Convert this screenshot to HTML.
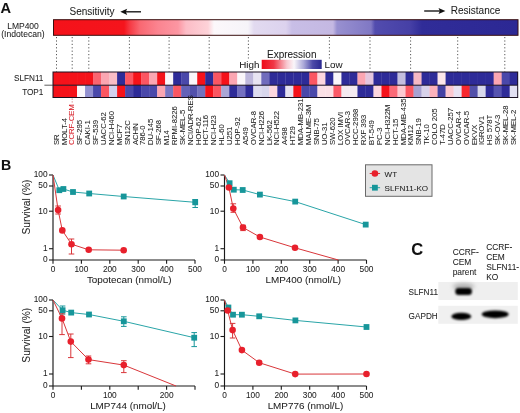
<!DOCTYPE html>
<html><head><meta charset="utf-8"><title>figure</title>
<style>html,body{margin:0;padding:0;background:#fff;} svg{display:block;font-family:"Liberation Sans", sans-serif;will-change:transform;filter:blur(0.35px);}</style>
</head><body>
<svg width="520" height="413" viewBox="0 0 520 413">
<rect width="520" height="413" fill="#fff"/>
<text stroke="#111" stroke-width="0.05" x="0.6" y="12.7" font-size="14.6" font-weight="bold" fill="#111">A</text>
<text stroke="#1c1c1c" stroke-width="0.05" x="69.5" y="14.6" font-size="10" fill="#1c1c1c">Sensitivity</text>
<line x1="125" y1="11.8" x2="141" y2="11.8" stroke="#1a1a1a" stroke-width="1.4"/>
<path d="M120.3 11.8 L127.2 8.7 L125.8 11.8 L127.2 14.9 Z" fill="#111"/>
<line x1="424.2" y1="11" x2="440" y2="11" stroke="#1a1a1a" stroke-width="1.4"/>
<path d="M445.4 11 L438.5 7.9 L439.9 11 L438.5 14.1 Z" fill="#111"/>
<text stroke="#1c1c1c" stroke-width="0.05" x="450.8" y="14.4" font-size="10" fill="#1c1c1c">Resistance</text>
<text stroke="#1c1c1c" stroke-width="0.05" x="23" y="28.5" font-size="8.5" text-anchor="middle" fill="#1c1c1c">LMP400</text>
<text stroke="#1c1c1c" stroke-width="0.05" x="22.9" y="36.9" font-size="8.6" text-anchor="middle" fill="#1c1c1c">(Indotecan)</text>
<defs><linearGradient id="lmp" x1="0" x2="1" y1="0" y2="0"><stop offset="-0.001076426264800861" stop-color="#f5121a"/><stop offset="0.15177610333692143" stop-color="#f5141c"/><stop offset="0.16469321851453175" stop-color="#f63a44"/><stop offset="0.18622174381054898" stop-color="#f96872"/><stop offset="0.22497308934337998" stop-color="#fb8490"/><stop offset="0.2680301399354144" stop-color="#fc96a2"/><stop offset="0.2852529601722282" stop-color="#fcbcc6"/><stop offset="0.3326157158234661" stop-color="#fdd2d8"/><stop offset="0.3455328310010764" stop-color="#fcf8fb"/><stop offset="0.418729817007535" stop-color="#f6f4f9"/><stop offset="0.4316469321851453" stop-color="#e2daf0"/><stop offset="0.5005382131324004" stop-color="#dcd2ee"/><stop offset="0.5134553283100107" stop-color="#c8bee6"/><stop offset="0.6017222820236814" stop-color="#c4b8e2"/><stop offset="0.6103336921420882" stop-color="#9890d0"/><stop offset="0.6835306781485468" stop-color="#8078c4"/><stop offset="0.6921420882669537" stop-color="#524cae"/><stop offset="0.767491926803014" stop-color="#4640a6"/><stop offset="0.7933261571582346" stop-color="#302c98"/><stop offset="1.0" stop-color="#2c2894"/></linearGradient>
<linearGradient id="expr" x1="0" x2="1" y1="0" y2="0"><stop offset="0" stop-color="#ee0a18"/><stop offset="0.2" stop-color="#f03646"/><stop offset="0.42" stop-color="#f8c8d0"/><stop offset="0.54" stop-color="#faf6fa"/><stop offset="0.7" stop-color="#aaa8d8"/><stop offset="0.85" stop-color="#4c4aa8"/><stop offset="1" stop-color="#2a2890"/></linearGradient>
<filter id="blur1" x="-50%" y="-50%" width="200%" height="200%"><feGaussianBlur stdDeviation="1.0"/></filter>
<filter id="blur2" x="-50%" y="-50%" width="200%" height="200%"><feGaussianBlur stdDeviation="2"/></filter>
</defs>
<rect x="53.5" y="19.7" width="464.5" height="15.6" fill="url(#lmp)" stroke="#3a1010" stroke-width="1"/>
<line x1="56.5" y1="37" x2="56.5" y2="71.5" stroke="#444" stroke-width="0.9" stroke-dasharray="1.2 2.2"/>
<line x1="72.2" y1="37" x2="72.2" y2="71.5" stroke="#444" stroke-width="0.9" stroke-dasharray="1.2 2.2"/>
<line x1="88.8" y1="37" x2="88.8" y2="71.5" stroke="#444" stroke-width="0.9" stroke-dasharray="1.2 2.2"/>
<line x1="129.4" y1="37" x2="129.4" y2="71.5" stroke="#444" stroke-width="0.9" stroke-dasharray="1.2 2.2"/>
<line x1="169.1" y1="37" x2="169.1" y2="71.5" stroke="#444" stroke-width="0.9" stroke-dasharray="1.2 2.2"/>
<line x1="209.2" y1="37" x2="209.2" y2="71.5" stroke="#444" stroke-width="0.9" stroke-dasharray="1.2 2.2"/>
<line x1="248.4" y1="37" x2="248.4" y2="58.5" stroke="#444" stroke-width="0.9" stroke-dasharray="1.2 2.2"/>
<line x1="329.4" y1="37" x2="329.4" y2="58.5" stroke="#444" stroke-width="0.9" stroke-dasharray="1.2 2.2"/>
<line x1="370" y1="37" x2="370" y2="71.5" stroke="#444" stroke-width="0.9" stroke-dasharray="1.2 2.2"/>
<line x1="410.6" y1="37" x2="410.6" y2="71.5" stroke="#444" stroke-width="0.9" stroke-dasharray="1.2 2.2"/>
<line x1="457.7" y1="37" x2="457.7" y2="71.5" stroke="#444" stroke-width="0.9" stroke-dasharray="1.2 2.2"/>
<line x1="504.8" y1="37" x2="504.8" y2="71.5" stroke="#444" stroke-width="0.9" stroke-dasharray="1.2 2.2"/>
<text stroke="#1c1c1c" stroke-width="0.05" x="267" y="58.3" font-size="10" fill="#1c1c1c">Expression</text>
<text stroke="#1c1c1c" stroke-width="0.05" x="239.3" y="68.4" font-size="9.8" fill="#1c1c1c">High</text>
<rect x="261.7" y="59.8" width="60" height="9.2" fill="url(#expr)"/>
<text stroke="#1c1c1c" stroke-width="0.05" x="324.5" y="68.4" font-size="9.8" fill="#1c1c1c">Low</text>
<rect x="53.00" y="72" width="8.31" height="13.2" fill="#f5121a"/>
<rect x="61.01" y="72" width="8.31" height="13.2" fill="#f5121a"/>
<rect x="69.02" y="72" width="8.31" height="13.2" fill="#f5121a"/>
<rect x="77.04" y="72" width="8.31" height="13.2" fill="#f5121a"/>
<rect x="85.05" y="72" width="8.31" height="13.2" fill="#f5121a"/>
<rect x="93.06" y="72" width="8.31" height="13.2" fill="#fa6470"/>
<rect x="101.07" y="72" width="8.31" height="13.2" fill="#fba6b2"/>
<rect x="109.08" y="72" width="8.31" height="13.2" fill="#f8bcc6"/>
<rect x="117.10" y="72" width="8.31" height="13.2" fill="#2e2b98"/>
<rect x="125.11" y="72" width="8.31" height="13.2" fill="#fb5662"/>
<rect x="133.12" y="72" width="8.31" height="13.2" fill="#f5121a"/>
<rect x="141.13" y="72" width="8.31" height="13.2" fill="#fb5662"/>
<rect x="149.14" y="72" width="8.31" height="13.2" fill="#fba6b2"/>
<rect x="157.16" y="72" width="8.31" height="13.2" fill="#f5121a"/>
<rect x="165.17" y="72" width="8.31" height="13.2" fill="#faf6fa"/>
<rect x="173.18" y="72" width="8.31" height="13.2" fill="#2e2b98"/>
<rect x="181.19" y="72" width="8.31" height="13.2" fill="#4a48aa"/>
<rect x="189.21" y="72" width="8.31" height="13.2" fill="#faf6fa"/>
<rect x="197.22" y="72" width="8.31" height="13.2" fill="#f5121a"/>
<rect x="205.23" y="72" width="8.31" height="13.2" fill="#2e2b98"/>
<rect x="213.24" y="72" width="8.31" height="13.2" fill="#fb5662"/>
<rect x="221.25" y="72" width="8.31" height="13.2" fill="#f5121a"/>
<rect x="229.27" y="72" width="8.31" height="13.2" fill="#fba6b2"/>
<rect x="237.28" y="72" width="8.31" height="13.2" fill="#faf6fa"/>
<rect x="245.29" y="72" width="8.31" height="13.2" fill="#bfb8dc"/>
<rect x="253.30" y="72" width="8.31" height="13.2" fill="#e8e4f2"/>
<rect x="261.31" y="72" width="8.31" height="13.2" fill="#706cbc"/>
<rect x="269.33" y="72" width="8.31" height="13.2" fill="#2e2b98"/>
<rect x="277.34" y="72" width="8.31" height="13.2" fill="#2e2b98"/>
<rect x="285.35" y="72" width="8.31" height="13.2" fill="#2e2b98"/>
<rect x="293.36" y="72" width="8.31" height="13.2" fill="#2e2b98"/>
<rect x="301.37" y="72" width="8.31" height="13.2" fill="#2e2b98"/>
<rect x="309.39" y="72" width="8.31" height="13.2" fill="#fb5662"/>
<rect x="317.40" y="72" width="8.31" height="13.2" fill="#fcd6de"/>
<rect x="325.41" y="72" width="8.31" height="13.2" fill="#2e2b98"/>
<rect x="333.42" y="72" width="8.31" height="13.2" fill="#faf6fa"/>
<rect x="341.43" y="72" width="8.31" height="13.2" fill="#2e2b98"/>
<rect x="349.45" y="72" width="8.31" height="13.2" fill="#2e2b98"/>
<rect x="357.46" y="72" width="8.31" height="13.2" fill="#fba6b2"/>
<rect x="365.47" y="72" width="8.31" height="13.2" fill="#e4c6de"/>
<rect x="373.48" y="72" width="8.31" height="13.2" fill="#2e2b98"/>
<rect x="381.49" y="72" width="8.31" height="13.2" fill="#2e2b98"/>
<rect x="389.51" y="72" width="8.31" height="13.2" fill="#2e2b98"/>
<rect x="397.52" y="72" width="8.31" height="13.2" fill="#c4bede"/>
<rect x="405.53" y="72" width="8.31" height="13.2" fill="#2e2b98"/>
<rect x="413.54" y="72" width="8.31" height="13.2" fill="#f6b8c4"/>
<rect x="421.56" y="72" width="8.31" height="13.2" fill="#2e2b98"/>
<rect x="429.57" y="72" width="8.31" height="13.2" fill="#2e2b98"/>
<rect x="437.58" y="72" width="8.31" height="13.2" fill="#fce6ea"/>
<rect x="445.59" y="72" width="8.31" height="13.2" fill="#2e2b98"/>
<rect x="453.60" y="72" width="8.31" height="13.2" fill="#2e2b98"/>
<rect x="461.62" y="72" width="8.31" height="13.2" fill="#2e2b98"/>
<rect x="469.63" y="72" width="8.31" height="13.2" fill="#2e2b98"/>
<rect x="477.64" y="72" width="8.31" height="13.2" fill="#2e2b98"/>
<rect x="485.65" y="72" width="8.31" height="13.2" fill="#2e2b98"/>
<rect x="493.66" y="72" width="8.31" height="13.2" fill="#fba6b2"/>
<rect x="501.68" y="72" width="8.31" height="13.2" fill="#4a48aa"/>
<rect x="509.69" y="72" width="8.31" height="13.2" fill="#2e2b98"/>
<rect x="53.00" y="85.2" width="8.31" height="12.3" fill="#f5121a"/>
<rect x="61.01" y="85.2" width="8.31" height="12.3" fill="#f5121a"/>
<rect x="69.02" y="85.2" width="8.31" height="12.3" fill="#f5121a"/>
<rect x="77.04" y="85.2" width="8.31" height="12.3" fill="#faf6fa"/>
<rect x="85.05" y="85.2" width="8.31" height="12.3" fill="#9390d0"/>
<rect x="93.06" y="85.2" width="8.31" height="12.3" fill="#4a48aa"/>
<rect x="101.07" y="85.2" width="8.31" height="12.3" fill="#fb5662"/>
<rect x="109.08" y="85.2" width="8.31" height="12.3" fill="#d2d0ee"/>
<rect x="117.10" y="85.2" width="8.31" height="12.3" fill="#f5121a"/>
<rect x="125.11" y="85.2" width="8.31" height="12.3" fill="#4a48aa"/>
<rect x="133.12" y="85.2" width="8.31" height="12.3" fill="#2e2b98"/>
<rect x="141.13" y="85.2" width="8.31" height="12.3" fill="#4a48aa"/>
<rect x="149.14" y="85.2" width="8.31" height="12.3" fill="#4a48aa"/>
<rect x="157.16" y="85.2" width="8.31" height="12.3" fill="#fba6b2"/>
<rect x="165.17" y="85.2" width="8.31" height="12.3" fill="#7a76c2"/>
<rect x="173.18" y="85.2" width="8.31" height="12.3" fill="#fb5662"/>
<rect x="181.19" y="85.2" width="8.31" height="12.3" fill="#6462b8"/>
<rect x="189.21" y="85.2" width="8.31" height="12.3" fill="#5250ac"/>
<rect x="197.22" y="85.2" width="8.31" height="12.3" fill="#7472be"/>
<rect x="205.23" y="85.2" width="8.31" height="12.3" fill="#f5121a"/>
<rect x="213.24" y="85.2" width="8.31" height="12.3" fill="#fb5662"/>
<rect x="221.25" y="85.2" width="8.31" height="12.3" fill="#aaa6d6"/>
<rect x="229.27" y="85.2" width="8.31" height="12.3" fill="#2e2b98"/>
<rect x="237.28" y="85.2" width="8.31" height="12.3" fill="#7470c0"/>
<rect x="245.29" y="85.2" width="8.31" height="12.3" fill="#2e2b98"/>
<rect x="253.30" y="85.2" width="8.31" height="12.3" fill="#dedcef"/>
<rect x="261.31" y="85.2" width="8.31" height="12.3" fill="#d8d6ec"/>
<rect x="269.33" y="85.2" width="8.31" height="12.3" fill="#fcd6de"/>
<rect x="277.34" y="85.2" width="8.31" height="12.3" fill="#2e2b98"/>
<rect x="285.35" y="85.2" width="8.31" height="12.3" fill="#e6e2f0"/>
<rect x="293.36" y="85.2" width="8.31" height="12.3" fill="#f5121a"/>
<rect x="301.37" y="85.2" width="8.31" height="12.3" fill="#4a48aa"/>
<rect x="309.39" y="85.2" width="8.31" height="12.3" fill="#4a48aa"/>
<rect x="317.40" y="85.2" width="8.31" height="12.3" fill="#fbe0e6"/>
<rect x="325.41" y="85.2" width="8.31" height="12.3" fill="#fbe0e6"/>
<rect x="333.42" y="85.2" width="8.31" height="12.3" fill="#fb5a68"/>
<rect x="341.43" y="85.2" width="8.31" height="12.3" fill="#f4eaf0"/>
<rect x="349.45" y="85.2" width="8.31" height="12.3" fill="#f4eaf0"/>
<rect x="357.46" y="85.2" width="8.31" height="12.3" fill="#2e2b98"/>
<rect x="365.47" y="85.2" width="8.31" height="12.3" fill="#2e2b98"/>
<rect x="373.48" y="85.2" width="8.31" height="12.3" fill="#fcd6de"/>
<rect x="381.49" y="85.2" width="8.31" height="12.3" fill="#f5121a"/>
<rect x="389.51" y="85.2" width="8.31" height="12.3" fill="#fb6a78"/>
<rect x="397.52" y="85.2" width="8.31" height="12.3" fill="#fcc8d0"/>
<rect x="405.53" y="85.2" width="8.31" height="12.3" fill="#fb5662"/>
<rect x="413.54" y="85.2" width="8.31" height="12.3" fill="#a8a2d2"/>
<rect x="421.56" y="85.2" width="8.31" height="12.3" fill="#d8d2ea"/>
<rect x="429.57" y="85.2" width="8.31" height="12.3" fill="#fcb2bc"/>
<rect x="437.58" y="85.2" width="8.31" height="12.3" fill="#4442a4"/>
<rect x="445.59" y="85.2" width="8.31" height="12.3" fill="#fcc8d0"/>
<rect x="453.60" y="85.2" width="8.31" height="12.3" fill="#e8e2f2"/>
<rect x="461.62" y="85.2" width="8.31" height="12.3" fill="#f8282e"/>
<rect x="469.63" y="85.2" width="8.31" height="12.3" fill="#5250aa"/>
<rect x="477.64" y="85.2" width="8.31" height="12.3" fill="#d8d8ec"/>
<rect x="485.65" y="85.2" width="8.31" height="12.3" fill="#2e2b98"/>
<rect x="493.66" y="85.2" width="8.31" height="12.3" fill="#5654b0"/>
<rect x="501.68" y="85.2" width="8.31" height="12.3" fill="#2e2b98"/>
<rect x="509.69" y="85.2" width="8.31" height="12.3" fill="#e2e0f2"/>
<rect x="53.0" y="72" width="464.70000000000005" height="25.5" fill="none" stroke="#1a1020" stroke-width="1"/>
<line x1="53.0" y1="85.2" x2="517.7" y2="85.2" stroke="#1a1020" stroke-width="1"/>
<line x1="44.4" y1="85.2" x2="53" y2="85.2" stroke="#333" stroke-width="0.8"/>
<text stroke="#1c1c1c" stroke-width="0.05" x="43.4" y="81.3" font-size="8.2" text-anchor="end" fill="#1c1c1c">SLFN11</text>
<text stroke="#1c1c1c" stroke-width="0.05" x="43.4" y="94.9" font-size="8.2" text-anchor="end" fill="#1c1c1c">TOP1</text>
<line x1="72.2" y1="98.5" x2="72.2" y2="104" stroke="#c86060" stroke-width="0.8" stroke-dasharray="1.2 1.6"/>
<text stroke="#1c1c1c" stroke-width="0.05" transform="translate(58.66,145.1) rotate(-90)" font-size="7.7" fill="#1c1c1c">SR</text>
<text stroke="#1c1c1c" stroke-width="0.05" transform="translate(66.54,145.1) rotate(-90)" font-size="7.7" fill="#1c1c1c">MOLT-4</text>
<text stroke="#d8202a" stroke-width="0.05" transform="translate(74.43,145.1) rotate(-90)" font-size="7.7" fill="#d8202a">CCRF-CEM</text>
<text stroke="#1c1c1c" stroke-width="0.05" transform="translate(82.31,145.1) rotate(-90)" font-size="7.7" fill="#1c1c1c">SF-295</text>
<text stroke="#1c1c1c" stroke-width="0.05" transform="translate(90.19,145.1) rotate(-90)" font-size="7.7" fill="#1c1c1c">CAKI-1</text>
<text stroke="#1c1c1c" stroke-width="0.05" transform="translate(98.08,145.1) rotate(-90)" font-size="7.7" fill="#1c1c1c">SF-539</text>
<text stroke="#1c1c1c" stroke-width="0.05" transform="translate(105.96,145.1) rotate(-90)" font-size="7.7" fill="#1c1c1c">UACC-62</text>
<text stroke="#1c1c1c" stroke-width="0.05" transform="translate(113.85,145.1) rotate(-90)" font-size="7.7" fill="#1c1c1c">NCI-H460</text>
<text stroke="#1c1c1c" stroke-width="0.05" transform="translate(121.73,145.1) rotate(-90)" font-size="7.7" fill="#1c1c1c">MCF7</text>
<text stroke="#1c1c1c" stroke-width="0.05" transform="translate(129.62,145.1) rotate(-90)" font-size="7.7" fill="#1c1c1c">SN12C</text>
<text stroke="#1c1c1c" stroke-width="0.05" transform="translate(137.50,145.1) rotate(-90)" font-size="7.7" fill="#1c1c1c">ACHN</text>
<text stroke="#1c1c1c" stroke-width="0.05" transform="translate(145.39,145.1) rotate(-90)" font-size="7.7" fill="#1c1c1c">786-0</text>
<text stroke="#1c1c1c" stroke-width="0.05" transform="translate(153.27,145.1) rotate(-90)" font-size="7.7" fill="#1c1c1c">DU-145</text>
<text stroke="#1c1c1c" stroke-width="0.05" transform="translate(161.15,145.1) rotate(-90)" font-size="7.7" fill="#1c1c1c">SF-268</text>
<text stroke="#1c1c1c" stroke-width="0.05" transform="translate(169.04,145.1) rotate(-90)" font-size="7.7" fill="#1c1c1c">M14</text>
<text stroke="#1c1c1c" stroke-width="0.05" transform="translate(176.92,145.1) rotate(-90)" font-size="7.7" fill="#1c1c1c">RPMI-8226</text>
<text stroke="#1c1c1c" stroke-width="0.05" transform="translate(184.81,145.1) rotate(-90)" font-size="7.7" fill="#1c1c1c">SK-MEL-5</text>
<text stroke="#1c1c1c" stroke-width="0.05" transform="translate(192.69,145.1) rotate(-90)" font-size="7.7" fill="#1c1c1c">NCI/ADR-RES</text>
<text stroke="#1c1c1c" stroke-width="0.05" transform="translate(200.58,145.1) rotate(-90)" font-size="7.7" fill="#1c1c1c">HOP-62</text>
<text stroke="#1c1c1c" stroke-width="0.05" transform="translate(208.46,145.1) rotate(-90)" font-size="7.7" fill="#1c1c1c">HCT-116</text>
<text stroke="#1c1c1c" stroke-width="0.05" transform="translate(216.35,145.1) rotate(-90)" font-size="7.7" fill="#1c1c1c">NCI-H23</text>
<text stroke="#1c1c1c" stroke-width="0.05" transform="translate(224.23,145.1) rotate(-90)" font-size="7.7" fill="#1c1c1c">HL-60</text>
<text stroke="#1c1c1c" stroke-width="0.05" transform="translate(232.12,145.1) rotate(-90)" font-size="7.7" fill="#1c1c1c">U251</text>
<text stroke="#1c1c1c" stroke-width="0.05" transform="translate(240.00,145.1) rotate(-90)" font-size="7.7" fill="#1c1c1c">HOP-92</text>
<text stroke="#1c1c1c" stroke-width="0.05" transform="translate(247.88,145.1) rotate(-90)" font-size="7.7" fill="#1c1c1c">A549</text>
<text stroke="#1c1c1c" stroke-width="0.05" transform="translate(255.77,145.1) rotate(-90)" font-size="7.7" fill="#1c1c1c">OVCAR-8</text>
<text stroke="#1c1c1c" stroke-width="0.05" transform="translate(263.65,145.1) rotate(-90)" font-size="7.7" fill="#1c1c1c">NCI-H226</text>
<text stroke="#1c1c1c" stroke-width="0.05" transform="translate(271.54,145.1) rotate(-90)" font-size="7.7" fill="#1c1c1c">LK-562</text>
<text stroke="#1c1c1c" stroke-width="0.05" transform="translate(279.42,145.1) rotate(-90)" font-size="7.7" fill="#1c1c1c">NCI-H522</text>
<text stroke="#1c1c1c" stroke-width="0.05" transform="translate(287.31,145.1) rotate(-90)" font-size="7.7" fill="#1c1c1c">A498</text>
<text stroke="#1c1c1c" stroke-width="0.05" transform="translate(295.19,145.1) rotate(-90)" font-size="7.7" fill="#1c1c1c">HT29</text>
<text stroke="#1c1c1c" stroke-width="0.05" transform="translate(303.08,145.1) rotate(-90)" font-size="7.7" fill="#1c1c1c">MDA-MB-231</text>
<text stroke="#1c1c1c" stroke-width="0.05" transform="translate(310.96,145.1) rotate(-90)" font-size="7.7" fill="#1c1c1c">MALME-3M</text>
<text stroke="#1c1c1c" stroke-width="0.05" transform="translate(318.84,145.1) rotate(-90)" font-size="7.7" fill="#1c1c1c">SNB-75</text>
<text stroke="#1c1c1c" stroke-width="0.05" transform="translate(326.73,145.1) rotate(-90)" font-size="7.7" fill="#1c1c1c">UO-31</text>
<text stroke="#1c1c1c" stroke-width="0.05" transform="translate(334.61,145.1) rotate(-90)" font-size="7.7" fill="#1c1c1c">SW-620</text>
<text stroke="#1c1c1c" stroke-width="0.05" transform="translate(342.50,145.1) rotate(-90)" font-size="7.7" fill="#1c1c1c">LOX IMVI</text>
<text stroke="#1c1c1c" stroke-width="0.05" transform="translate(350.38,145.1) rotate(-90)" font-size="7.7" fill="#1c1c1c">OVCAR-3</text>
<text stroke="#1c1c1c" stroke-width="0.05" transform="translate(358.27,145.1) rotate(-90)" font-size="7.7" fill="#1c1c1c">HCC-2998</text>
<text stroke="#1c1c1c" stroke-width="0.05" transform="translate(366.15,145.1) rotate(-90)" font-size="7.7" fill="#1c1c1c">RXF 393</text>
<text stroke="#1c1c1c" stroke-width="0.05" transform="translate(374.04,145.1) rotate(-90)" font-size="7.7" fill="#1c1c1c">BT-549</text>
<text stroke="#1c1c1c" stroke-width="0.05" transform="translate(381.92,145.1) rotate(-90)" font-size="7.7" fill="#1c1c1c">PC-3</text>
<text stroke="#1c1c1c" stroke-width="0.05" transform="translate(389.80,145.1) rotate(-90)" font-size="7.7" fill="#1c1c1c">NCI-H322M</text>
<text stroke="#1c1c1c" stroke-width="0.05" transform="translate(397.69,145.1) rotate(-90)" font-size="7.7" fill="#1c1c1c">HCT-15</text>
<text stroke="#1c1c1c" stroke-width="0.05" transform="translate(405.57,145.1) rotate(-90)" font-size="7.7" fill="#1c1c1c">MDA-MB-435</text>
<text stroke="#1c1c1c" stroke-width="0.05" transform="translate(413.46,145.1) rotate(-90)" font-size="7.7" fill="#1c1c1c">KM12</text>
<text stroke="#1c1c1c" stroke-width="0.05" transform="translate(421.34,145.1) rotate(-90)" font-size="7.7" fill="#1c1c1c">SNB-19</text>
<text stroke="#1c1c1c" stroke-width="0.05" transform="translate(429.23,145.1) rotate(-90)" font-size="7.7" fill="#1c1c1c">TK-10</text>
<text stroke="#1c1c1c" stroke-width="0.05" transform="translate(437.11,145.1) rotate(-90)" font-size="7.7" fill="#1c1c1c">COLO 205</text>
<text stroke="#1c1c1c" stroke-width="0.05" transform="translate(445.00,145.1) rotate(-90)" font-size="7.7" fill="#1c1c1c">T-47D</text>
<text stroke="#1c1c1c" stroke-width="0.05" transform="translate(452.88,145.1) rotate(-90)" font-size="7.7" fill="#1c1c1c">UACC-257</text>
<text stroke="#1c1c1c" stroke-width="0.05" transform="translate(460.77,145.1) rotate(-90)" font-size="7.7" fill="#1c1c1c">OVCAR-4</text>
<text stroke="#1c1c1c" stroke-width="0.05" transform="translate(468.65,145.1) rotate(-90)" font-size="7.7" fill="#1c1c1c">OVCAR-5</text>
<text stroke="#1c1c1c" stroke-width="0.05" transform="translate(476.53,145.1) rotate(-90)" font-size="7.7" fill="#1c1c1c">EKVX</text>
<text stroke="#1c1c1c" stroke-width="0.05" transform="translate(484.42,145.1) rotate(-90)" font-size="7.7" fill="#1c1c1c">IGROV1</text>
<text stroke="#1c1c1c" stroke-width="0.05" transform="translate(492.30,145.1) rotate(-90)" font-size="7.7" fill="#1c1c1c">HS 578T</text>
<text stroke="#1c1c1c" stroke-width="0.05" transform="translate(500.19,145.1) rotate(-90)" font-size="7.7" fill="#1c1c1c">SK-OV-3</text>
<text stroke="#1c1c1c" stroke-width="0.05" transform="translate(508.07,145.1) rotate(-90)" font-size="7.7" fill="#1c1c1c">SK-MEL-28</text>
<text stroke="#1c1c1c" stroke-width="0.05" transform="translate(515.96,145.1) rotate(-90)" font-size="7.7" fill="#1c1c1c">SK-MEL-2</text>
<text stroke="#111" stroke-width="0.05" x="1" y="170.2" font-size="14.2" font-weight="bold" fill="#111">B</text>
<line x1="53" y1="175" x2="53" y2="260" stroke="#1a1a1a" stroke-width="1.15"/>
<line x1="53" y1="260" x2="195.0" y2="260" stroke="#1a1a1a" stroke-width="1.15"/>
<line x1="49" y1="175" x2="53" y2="175" stroke="#1a1a1a" stroke-width="1.1"/>
<text stroke="#1c1c1c" stroke-width="0.05" x="47.6" y="177.40" font-size="8.3" text-anchor="end" fill="#1c1c1c">100</text>
<line x1="49" y1="186" x2="53" y2="186" stroke="#1a1a1a" stroke-width="1.1"/>
<text stroke="#1c1c1c" stroke-width="0.05" x="47.6" y="188.40" font-size="8.3" text-anchor="end" fill="#1c1c1c">50</text>
<line x1="49" y1="211.2" x2="53" y2="211.2" stroke="#1a1a1a" stroke-width="1.1"/>
<text stroke="#1c1c1c" stroke-width="0.05" x="47.6" y="213.60" font-size="8.3" text-anchor="end" fill="#1c1c1c">10</text>
<line x1="49" y1="248.7" x2="53" y2="248.7" stroke="#1a1a1a" stroke-width="1.1"/>
<text stroke="#1c1c1c" stroke-width="0.05" x="47.6" y="251.10" font-size="8.3" text-anchor="end" fill="#1c1c1c">1</text>
<line x1="49" y1="260" x2="53" y2="260" stroke="#1a1a1a" stroke-width="1.1"/>
<text stroke="#1c1c1c" stroke-width="0.05" x="47.6" y="262.40" font-size="8.3" text-anchor="end" fill="#1c1c1c">0</text>
<line x1="53.00" y1="260" x2="53.00" y2="263.8" stroke="#1a1a1a" stroke-width="1.1"/>
<text stroke="#1c1c1c" stroke-width="0.05" x="53.00" y="271.60" font-size="8.3" text-anchor="middle" fill="#1c1c1c">0</text>
<line x1="81.40" y1="260" x2="81.40" y2="263.8" stroke="#1a1a1a" stroke-width="1.1"/>
<text stroke="#1c1c1c" stroke-width="0.05" x="81.40" y="271.60" font-size="8.3" text-anchor="middle" fill="#1c1c1c">100</text>
<line x1="109.80" y1="260" x2="109.80" y2="263.8" stroke="#1a1a1a" stroke-width="1.1"/>
<text stroke="#1c1c1c" stroke-width="0.05" x="109.80" y="271.60" font-size="8.3" text-anchor="middle" fill="#1c1c1c">200</text>
<line x1="138.20" y1="260" x2="138.20" y2="263.8" stroke="#1a1a1a" stroke-width="1.1"/>
<text stroke="#1c1c1c" stroke-width="0.05" x="138.20" y="271.60" font-size="8.3" text-anchor="middle" fill="#1c1c1c">300</text>
<line x1="166.60" y1="260" x2="166.60" y2="263.8" stroke="#1a1a1a" stroke-width="1.1"/>
<text stroke="#1c1c1c" stroke-width="0.05" x="166.60" y="271.60" font-size="8.3" text-anchor="middle" fill="#1c1c1c">400</text>
<line x1="195.00" y1="260" x2="195.00" y2="263.8" stroke="#1a1a1a" stroke-width="1.1"/>
<text stroke="#1c1c1c" stroke-width="0.05" x="195.00" y="271.60" font-size="8.3" text-anchor="middle" fill="#1c1c1c">500</text>
<text stroke="#1c1c1c" stroke-width="0.05" x="129.2" y="283.40" font-size="9.9" text-anchor="middle" fill="#1c1c1c">Topotecan (nmol/L)</text>
<text stroke="#1c1c1c" stroke-width="0.05" transform="translate(29.6,207.0) rotate(-90)" font-size="10.2" text-anchor="middle" fill="#1c1c1c">Survival (%)</text>
<polyline points="53,175 59.3,190.2 63.4,189 73,192 89.2,193.5 123.7,196.5 195.2,202.3" fill="none" stroke="#2aa5a8" stroke-width="1"/>
<polyline points="53,175 58.1,210 62.3,230.4 71.5,244.2 88.7,249.8 123.7,250.2" fill="none" stroke="#d9363a" stroke-width="1"/>
<path d="M195.2 199.5 V207.5 M192.39999999999998 199.5 H198.0 M192.39999999999998 207.5 H198.0" stroke="#17969a" stroke-width="1" fill="none"/>
<path d="M58.1 206 V214 M55.300000000000004 206 H60.9 M55.300000000000004 214 H60.9" stroke="#d9363a" stroke-width="1" fill="none"/>
<path d="M71.5 239 V254 M68.7 239 H74.3 M68.7 254 H74.3" stroke="#d9363a" stroke-width="1" fill="none"/>
<rect x="56.4" y="187.29999999999998" width="5.8" height="5.8" fill="#17969a"/>
<rect x="60.5" y="186.1" width="5.8" height="5.8" fill="#17969a"/>
<rect x="70.1" y="189.1" width="5.8" height="5.8" fill="#17969a"/>
<rect x="86.3" y="190.6" width="5.8" height="5.8" fill="#17969a"/>
<rect x="120.8" y="193.6" width="5.8" height="5.8" fill="#17969a"/>
<rect x="192.29999999999998" y="199.4" width="5.8" height="5.8" fill="#17969a"/>
<circle cx="58.1" cy="210" r="3.3" fill="#e8202c"/>
<circle cx="62.3" cy="230.4" r="3.3" fill="#e8202c"/>
<circle cx="71.5" cy="244.2" r="3.3" fill="#e8202c"/>
<circle cx="88.7" cy="249.8" r="3.3" fill="#e8202c"/>
<circle cx="123.7" cy="250.2" r="3.3" fill="#e8202c"/>
<line x1="224.5" y1="175" x2="224.5" y2="260" stroke="#1a1a1a" stroke-width="1.15"/>
<line x1="224.5" y1="260" x2="366.5" y2="260" stroke="#1a1a1a" stroke-width="1.15"/>
<line x1="220.5" y1="175" x2="224.5" y2="175" stroke="#1a1a1a" stroke-width="1.1"/>
<text stroke="#1c1c1c" stroke-width="0.05" x="219.1" y="177.40" font-size="8.3" text-anchor="end" fill="#1c1c1c">100</text>
<line x1="220.5" y1="186" x2="224.5" y2="186" stroke="#1a1a1a" stroke-width="1.1"/>
<text stroke="#1c1c1c" stroke-width="0.05" x="219.1" y="188.40" font-size="8.3" text-anchor="end" fill="#1c1c1c">50</text>
<line x1="220.5" y1="211.2" x2="224.5" y2="211.2" stroke="#1a1a1a" stroke-width="1.1"/>
<text stroke="#1c1c1c" stroke-width="0.05" x="219.1" y="213.60" font-size="8.3" text-anchor="end" fill="#1c1c1c">10</text>
<line x1="220.5" y1="248.7" x2="224.5" y2="248.7" stroke="#1a1a1a" stroke-width="1.1"/>
<text stroke="#1c1c1c" stroke-width="0.05" x="219.1" y="251.10" font-size="8.3" text-anchor="end" fill="#1c1c1c">1</text>
<line x1="220.5" y1="260" x2="224.5" y2="260" stroke="#1a1a1a" stroke-width="1.1"/>
<text stroke="#1c1c1c" stroke-width="0.05" x="219.1" y="262.40" font-size="8.3" text-anchor="end" fill="#1c1c1c">0</text>
<line x1="224.50" y1="260" x2="224.50" y2="263.8" stroke="#1a1a1a" stroke-width="1.1"/>
<text stroke="#1c1c1c" stroke-width="0.05" x="224.50" y="271.60" font-size="8.3" text-anchor="middle" fill="#1c1c1c">0</text>
<line x1="252.90" y1="260" x2="252.90" y2="263.8" stroke="#1a1a1a" stroke-width="1.1"/>
<text stroke="#1c1c1c" stroke-width="0.05" x="252.90" y="271.60" font-size="8.3" text-anchor="middle" fill="#1c1c1c">100</text>
<line x1="281.30" y1="260" x2="281.30" y2="263.8" stroke="#1a1a1a" stroke-width="1.1"/>
<text stroke="#1c1c1c" stroke-width="0.05" x="281.30" y="271.60" font-size="8.3" text-anchor="middle" fill="#1c1c1c">200</text>
<line x1="309.70" y1="260" x2="309.70" y2="263.8" stroke="#1a1a1a" stroke-width="1.1"/>
<text stroke="#1c1c1c" stroke-width="0.05" x="309.70" y="271.60" font-size="8.3" text-anchor="middle" fill="#1c1c1c">300</text>
<line x1="338.10" y1="260" x2="338.10" y2="263.8" stroke="#1a1a1a" stroke-width="1.1"/>
<text stroke="#1c1c1c" stroke-width="0.05" x="338.10" y="271.60" font-size="8.3" text-anchor="middle" fill="#1c1c1c">400</text>
<line x1="366.50" y1="260" x2="366.50" y2="263.8" stroke="#1a1a1a" stroke-width="1.1"/>
<text stroke="#1c1c1c" stroke-width="0.05" x="366.50" y="271.60" font-size="8.3" text-anchor="middle" fill="#1c1c1c">500</text>
<text stroke="#1c1c1c" stroke-width="0.05" x="303.3" y="283.40" font-size="9.9" text-anchor="middle" fill="#1c1c1c">LMP400 (nmol/L)</text>
<polyline points="224.5,175 229.6,183.2 233.8,189.7 242.7,190 259.9,194.6 295.2,201.6 365.7,224.6" fill="none" stroke="#2aa5a8" stroke-width="1"/>
<polyline points="224.5,175 228.9,187.5 233.3,208.6 243,227.5 259.9,237 295,247.8 338.4,260" fill="none" stroke="#d9363a" stroke-width="1"/>
<path d="M233.3 203.8 V212.3 M230.5 203.8 H236.10000000000002 M230.5 212.3 H236.10000000000002" stroke="#d9363a" stroke-width="1" fill="none"/>
<path d="M243 225.2 V230.6 M240.2 225.2 H245.8 M240.2 230.6 H245.8" stroke="#d9363a" stroke-width="1" fill="none"/>
<rect x="226.7" y="180.29999999999998" width="5.8" height="5.8" fill="#17969a"/>
<rect x="230.9" y="186.79999999999998" width="5.8" height="5.8" fill="#17969a"/>
<rect x="239.79999999999998" y="187.1" width="5.8" height="5.8" fill="#17969a"/>
<rect x="257.0" y="191.7" width="5.8" height="5.8" fill="#17969a"/>
<rect x="292.3" y="198.7" width="5.8" height="5.8" fill="#17969a"/>
<rect x="362.8" y="221.7" width="5.8" height="5.8" fill="#17969a"/>
<circle cx="228.9" cy="187.5" r="3.3" fill="#e8202c"/>
<circle cx="233.3" cy="208.6" r="3.3" fill="#e8202c"/>
<circle cx="243" cy="227.5" r="3.3" fill="#e8202c"/>
<circle cx="259.9" cy="237" r="3.3" fill="#e8202c"/>
<circle cx="295" cy="247.8" r="3.3" fill="#e8202c"/>
<line x1="53" y1="300" x2="53" y2="386" stroke="#1a1a1a" stroke-width="1.15"/>
<line x1="53" y1="386" x2="195.0" y2="386" stroke="#1a1a1a" stroke-width="1.15"/>
<line x1="49" y1="300" x2="53" y2="300" stroke="#1a1a1a" stroke-width="1.1"/>
<text stroke="#1c1c1c" stroke-width="0.05" x="47.6" y="302.40" font-size="8.3" text-anchor="end" fill="#1c1c1c">100</text>
<line x1="49" y1="310.8" x2="53" y2="310.8" stroke="#1a1a1a" stroke-width="1.1"/>
<text stroke="#1c1c1c" stroke-width="0.05" x="47.6" y="313.20" font-size="8.3" text-anchor="end" fill="#1c1c1c">50</text>
<line x1="49" y1="336.5" x2="53" y2="336.5" stroke="#1a1a1a" stroke-width="1.1"/>
<text stroke="#1c1c1c" stroke-width="0.05" x="47.6" y="338.90" font-size="8.3" text-anchor="end" fill="#1c1c1c">10</text>
<line x1="49" y1="374" x2="53" y2="374" stroke="#1a1a1a" stroke-width="1.1"/>
<text stroke="#1c1c1c" stroke-width="0.05" x="47.6" y="376.40" font-size="8.3" text-anchor="end" fill="#1c1c1c">1</text>
<line x1="49" y1="386" x2="53" y2="386" stroke="#1a1a1a" stroke-width="1.1"/>
<text stroke="#1c1c1c" stroke-width="0.05" x="47.6" y="388.40" font-size="8.3" text-anchor="end" fill="#1c1c1c">0</text>
<line x1="53.00" y1="386" x2="53.00" y2="389.8" stroke="#1a1a1a" stroke-width="1.1"/>
<text stroke="#1c1c1c" stroke-width="0.05" x="53.00" y="397.60" font-size="8.3" text-anchor="middle" fill="#1c1c1c">0</text>
<line x1="81.40" y1="386" x2="81.40" y2="389.8" stroke="#1a1a1a" stroke-width="1.1"/>
<line x1="109.80" y1="386" x2="109.80" y2="389.8" stroke="#1a1a1a" stroke-width="1.1"/>
<text stroke="#1c1c1c" stroke-width="0.05" x="109.80" y="397.60" font-size="8.3" text-anchor="middle" fill="#1c1c1c">100</text>
<line x1="138.20" y1="386" x2="138.20" y2="389.8" stroke="#1a1a1a" stroke-width="1.1"/>
<line x1="166.60" y1="386" x2="166.60" y2="389.8" stroke="#1a1a1a" stroke-width="1.1"/>
<text stroke="#1c1c1c" stroke-width="0.05" x="166.60" y="397.60" font-size="8.3" text-anchor="middle" fill="#1c1c1c">200</text>
<line x1="195.00" y1="386" x2="195.00" y2="389.8" stroke="#1a1a1a" stroke-width="1.1"/>
<text stroke="#1c1c1c" stroke-width="0.05" x="128" y="409.40" font-size="9.9" text-anchor="middle" fill="#1c1c1c">LMP744 (nmol/L)</text>
<text stroke="#1c1c1c" stroke-width="0.05" transform="translate(30.2,335.2) rotate(-90)" font-size="10.2" text-anchor="middle" fill="#1c1c1c">Survival (%)</text>
<polyline points="53,300 62.6,310.2 71.2,312.6 89,314.5 123.8,321.3 194.2,337.7" fill="none" stroke="#2aa5a8" stroke-width="1"/>
<polyline points="53,300 62,318.4 70.8,341.6 88.5,359.6 123.8,365.1 176,386" fill="none" stroke="#d9363a" stroke-width="1"/>
<path d="M62.6 306 V314 M59.800000000000004 306 H65.4 M59.800000000000004 314 H65.4" stroke="#17969a" stroke-width="1" fill="none"/>
<path d="M123.8 316.8 V326.4 M121.0 316.8 H126.6 M121.0 326.4 H126.6" stroke="#17969a" stroke-width="1" fill="none"/>
<path d="M194.2 332.6 V346.6 M191.39999999999998 332.6 H197.0 M191.39999999999998 346.6 H197.0" stroke="#17969a" stroke-width="1" fill="none"/>
<path d="M62 313.8 V334.6 M59.2 313.8 H64.8 M59.2 334.6 H64.8" stroke="#d9363a" stroke-width="1" fill="none"/>
<path d="M70.8 334 V357.6 M68.0 334 H73.6 M68.0 357.6 H73.6" stroke="#d9363a" stroke-width="1" fill="none"/>
<path d="M88.5 356 V363.8 M85.7 356 H91.3 M85.7 363.8 H91.3" stroke="#d9363a" stroke-width="1" fill="none"/>
<path d="M123.8 360.7 V372.6 M121.0 360.7 H126.6 M121.0 372.6 H126.6" stroke="#d9363a" stroke-width="1" fill="none"/>
<rect x="59.7" y="307.3" width="5.8" height="5.8" fill="#17969a"/>
<rect x="68.3" y="309.70000000000005" width="5.8" height="5.8" fill="#17969a"/>
<rect x="86.1" y="311.6" width="5.8" height="5.8" fill="#17969a"/>
<rect x="120.89999999999999" y="318.40000000000003" width="5.8" height="5.8" fill="#17969a"/>
<rect x="191.29999999999998" y="334.8" width="5.8" height="5.8" fill="#17969a"/>
<circle cx="62" cy="318.4" r="3.3" fill="#e8202c"/>
<circle cx="70.8" cy="341.6" r="3.3" fill="#e8202c"/>
<circle cx="88.5" cy="359.6" r="3.3" fill="#e8202c"/>
<circle cx="123.8" cy="365.1" r="3.3" fill="#e8202c"/>
<line x1="224.5" y1="300" x2="224.5" y2="386" stroke="#1a1a1a" stroke-width="1.15"/>
<line x1="224.5" y1="386" x2="366.5" y2="386" stroke="#1a1a1a" stroke-width="1.15"/>
<line x1="220.5" y1="300" x2="224.5" y2="300" stroke="#1a1a1a" stroke-width="1.1"/>
<text stroke="#1c1c1c" stroke-width="0.05" x="219.1" y="302.40" font-size="8.3" text-anchor="end" fill="#1c1c1c">100</text>
<line x1="220.5" y1="310.8" x2="224.5" y2="310.8" stroke="#1a1a1a" stroke-width="1.1"/>
<text stroke="#1c1c1c" stroke-width="0.05" x="219.1" y="313.20" font-size="8.3" text-anchor="end" fill="#1c1c1c">50</text>
<line x1="220.5" y1="336.5" x2="224.5" y2="336.5" stroke="#1a1a1a" stroke-width="1.1"/>
<text stroke="#1c1c1c" stroke-width="0.05" x="219.1" y="338.90" font-size="8.3" text-anchor="end" fill="#1c1c1c">10</text>
<line x1="220.5" y1="374" x2="224.5" y2="374" stroke="#1a1a1a" stroke-width="1.1"/>
<text stroke="#1c1c1c" stroke-width="0.05" x="219.1" y="376.40" font-size="8.3" text-anchor="end" fill="#1c1c1c">1</text>
<line x1="220.5" y1="386" x2="224.5" y2="386" stroke="#1a1a1a" stroke-width="1.1"/>
<text stroke="#1c1c1c" stroke-width="0.05" x="219.1" y="388.40" font-size="8.3" text-anchor="end" fill="#1c1c1c">0</text>
<line x1="224.50" y1="386" x2="224.50" y2="389.8" stroke="#1a1a1a" stroke-width="1.1"/>
<text stroke="#1c1c1c" stroke-width="0.05" x="224.50" y="397.60" font-size="8.3" text-anchor="middle" fill="#1c1c1c">0</text>
<line x1="252.90" y1="386" x2="252.90" y2="389.8" stroke="#1a1a1a" stroke-width="1.1"/>
<text stroke="#1c1c1c" stroke-width="0.05" x="252.90" y="397.60" font-size="8.3" text-anchor="middle" fill="#1c1c1c">100</text>
<line x1="281.30" y1="386" x2="281.30" y2="389.8" stroke="#1a1a1a" stroke-width="1.1"/>
<text stroke="#1c1c1c" stroke-width="0.05" x="281.30" y="397.60" font-size="8.3" text-anchor="middle" fill="#1c1c1c">200</text>
<line x1="309.70" y1="386" x2="309.70" y2="389.8" stroke="#1a1a1a" stroke-width="1.1"/>
<text stroke="#1c1c1c" stroke-width="0.05" x="309.70" y="397.60" font-size="8.3" text-anchor="middle" fill="#1c1c1c">300</text>
<line x1="338.10" y1="386" x2="338.10" y2="389.8" stroke="#1a1a1a" stroke-width="1.1"/>
<text stroke="#1c1c1c" stroke-width="0.05" x="338.10" y="397.60" font-size="8.3" text-anchor="middle" fill="#1c1c1c">400</text>
<line x1="366.50" y1="386" x2="366.50" y2="389.8" stroke="#1a1a1a" stroke-width="1.1"/>
<text stroke="#1c1c1c" stroke-width="0.05" x="366.50" y="397.60" font-size="8.3" text-anchor="middle" fill="#1c1c1c">500</text>
<text stroke="#1c1c1c" stroke-width="0.05" x="305.5" y="409.40" font-size="9.9" text-anchor="middle" fill="#1c1c1c">LMP776 (nmol/L)</text>
<polyline points="224.5,300 228.4,307.5 233,314.7 241.9,314.7 259.2,316.3 295.4,320.4 366.5,327" fill="none" stroke="#2aa5a8" stroke-width="1"/>
<polyline points="224.5,300 227.7,310.5 232.6,330.1 241.9,350.1 259.2,362.7 295.2,374.1 366.5,374" fill="none" stroke="#d9363a" stroke-width="1"/>
<path d="M232.6 323.4 V338 M229.79999999999998 323.4 H235.4 M229.79999999999998 338 H235.4" stroke="#d9363a" stroke-width="1" fill="none"/>
<rect x="225.5" y="304.6" width="5.8" height="5.8" fill="#17969a"/>
<rect x="230.1" y="311.8" width="5.8" height="5.8" fill="#17969a"/>
<rect x="239.0" y="311.8" width="5.8" height="5.8" fill="#17969a"/>
<rect x="256.3" y="313.40000000000003" width="5.8" height="5.8" fill="#17969a"/>
<rect x="292.5" y="317.5" width="5.8" height="5.8" fill="#17969a"/>
<rect x="363.6" y="324.1" width="5.8" height="5.8" fill="#17969a"/>
<circle cx="227.7" cy="310.5" r="3.3" fill="#e8202c"/>
<circle cx="232.6" cy="330.1" r="3.3" fill="#e8202c"/>
<circle cx="241.9" cy="350.1" r="3.3" fill="#e8202c"/>
<circle cx="259.2" cy="362.7" r="3.3" fill="#e8202c"/>
<circle cx="295.2" cy="374.1" r="3.3" fill="#e8202c"/>
<circle cx="366.5" cy="374" r="3.3" fill="#e8202c"/>
<rect x="365.5" y="164.8" width="66.5" height="31.5" fill="#e4e4e4" stroke="#6a6a6a" stroke-width="1"/>
<line x1="369.7" y1="173.5" x2="380.1" y2="173.5" stroke="#d9363a" stroke-width="1"/>
<circle cx="374.9" cy="173.5" r="3.3" fill="#e8202c"/>
<line x1="369.7" y1="187.7" x2="380.1" y2="187.7" stroke="#2aa5a8" stroke-width="1"/>
<rect x="372" y="184.8" width="5.8" height="5.8" fill="#17969a"/>
<text stroke="#1c1c1c" stroke-width="0.05" x="384.6" y="176.7" font-size="8" fill="#1c1c1c">WT</text>
<text stroke="#1c1c1c" stroke-width="0.05" x="384.6" y="190.9" font-size="8.1" fill="#1c1c1c">SLFN11-KO</text>
<text stroke="#111" stroke-width="0.05" x="411.3" y="255.2" font-size="16.5" font-weight="bold" fill="#111">C</text>
<text stroke="#1c1c1c" stroke-width="0.05" x="452.7" y="255.3" font-size="8.4" fill="#1c1c1c">CCRF-</text>
<text stroke="#1c1c1c" stroke-width="0.05" x="452.7" y="265.1" font-size="8.4" fill="#1c1c1c">CEM</text>
<text stroke="#1c1c1c" stroke-width="0.05" x="452.7" y="274.9" font-size="8.4" fill="#1c1c1c">parent</text>
<text stroke="#1c1c1c" stroke-width="0.05" x="486.2" y="250.1" font-size="8.4" fill="#1c1c1c">CCRF-</text>
<text stroke="#1c1c1c" stroke-width="0.05" x="486.2" y="259.9" font-size="8.4" fill="#1c1c1c">CEM</text>
<text stroke="#1c1c1c" stroke-width="0.05" x="486.2" y="269.7" font-size="8.4" fill="#1c1c1c">SLFN11-</text>
<text stroke="#1c1c1c" stroke-width="0.05" x="486.2" y="279.5" font-size="8.4" fill="#1c1c1c">KO</text>
<rect x="438.3" y="282" width="79.5" height="18" fill="#efefef"/>
<rect x="438.3" y="305.8" width="79.5" height="18" fill="#f0f0f0"/>
<ellipse cx="463.5" cy="286.5" rx="11" ry="3" fill="#aaa" filter="url(#blur2)"/>
<rect x="455.3" y="288" width="16.6" height="7" rx="3.3" fill="#050505" filter="url(#blur1)"/>
<ellipse cx="461.3" cy="316.4" rx="9.9" ry="3.6" fill="#050505" filter="url(#blur1)"/>
<ellipse cx="495.2" cy="314.3" rx="13.5" ry="3.9" fill="#050505" filter="url(#blur1)"/>
<text stroke="#1c1c1c" stroke-width="0.05" x="408.6" y="295.3" font-size="8.2" fill="#1c1c1c">SLFN11</text>
<text stroke="#1c1c1c" stroke-width="0.05" x="408.6" y="318.5" font-size="8.2" fill="#1c1c1c">GAPDH</text>
</svg>
</body></html>
